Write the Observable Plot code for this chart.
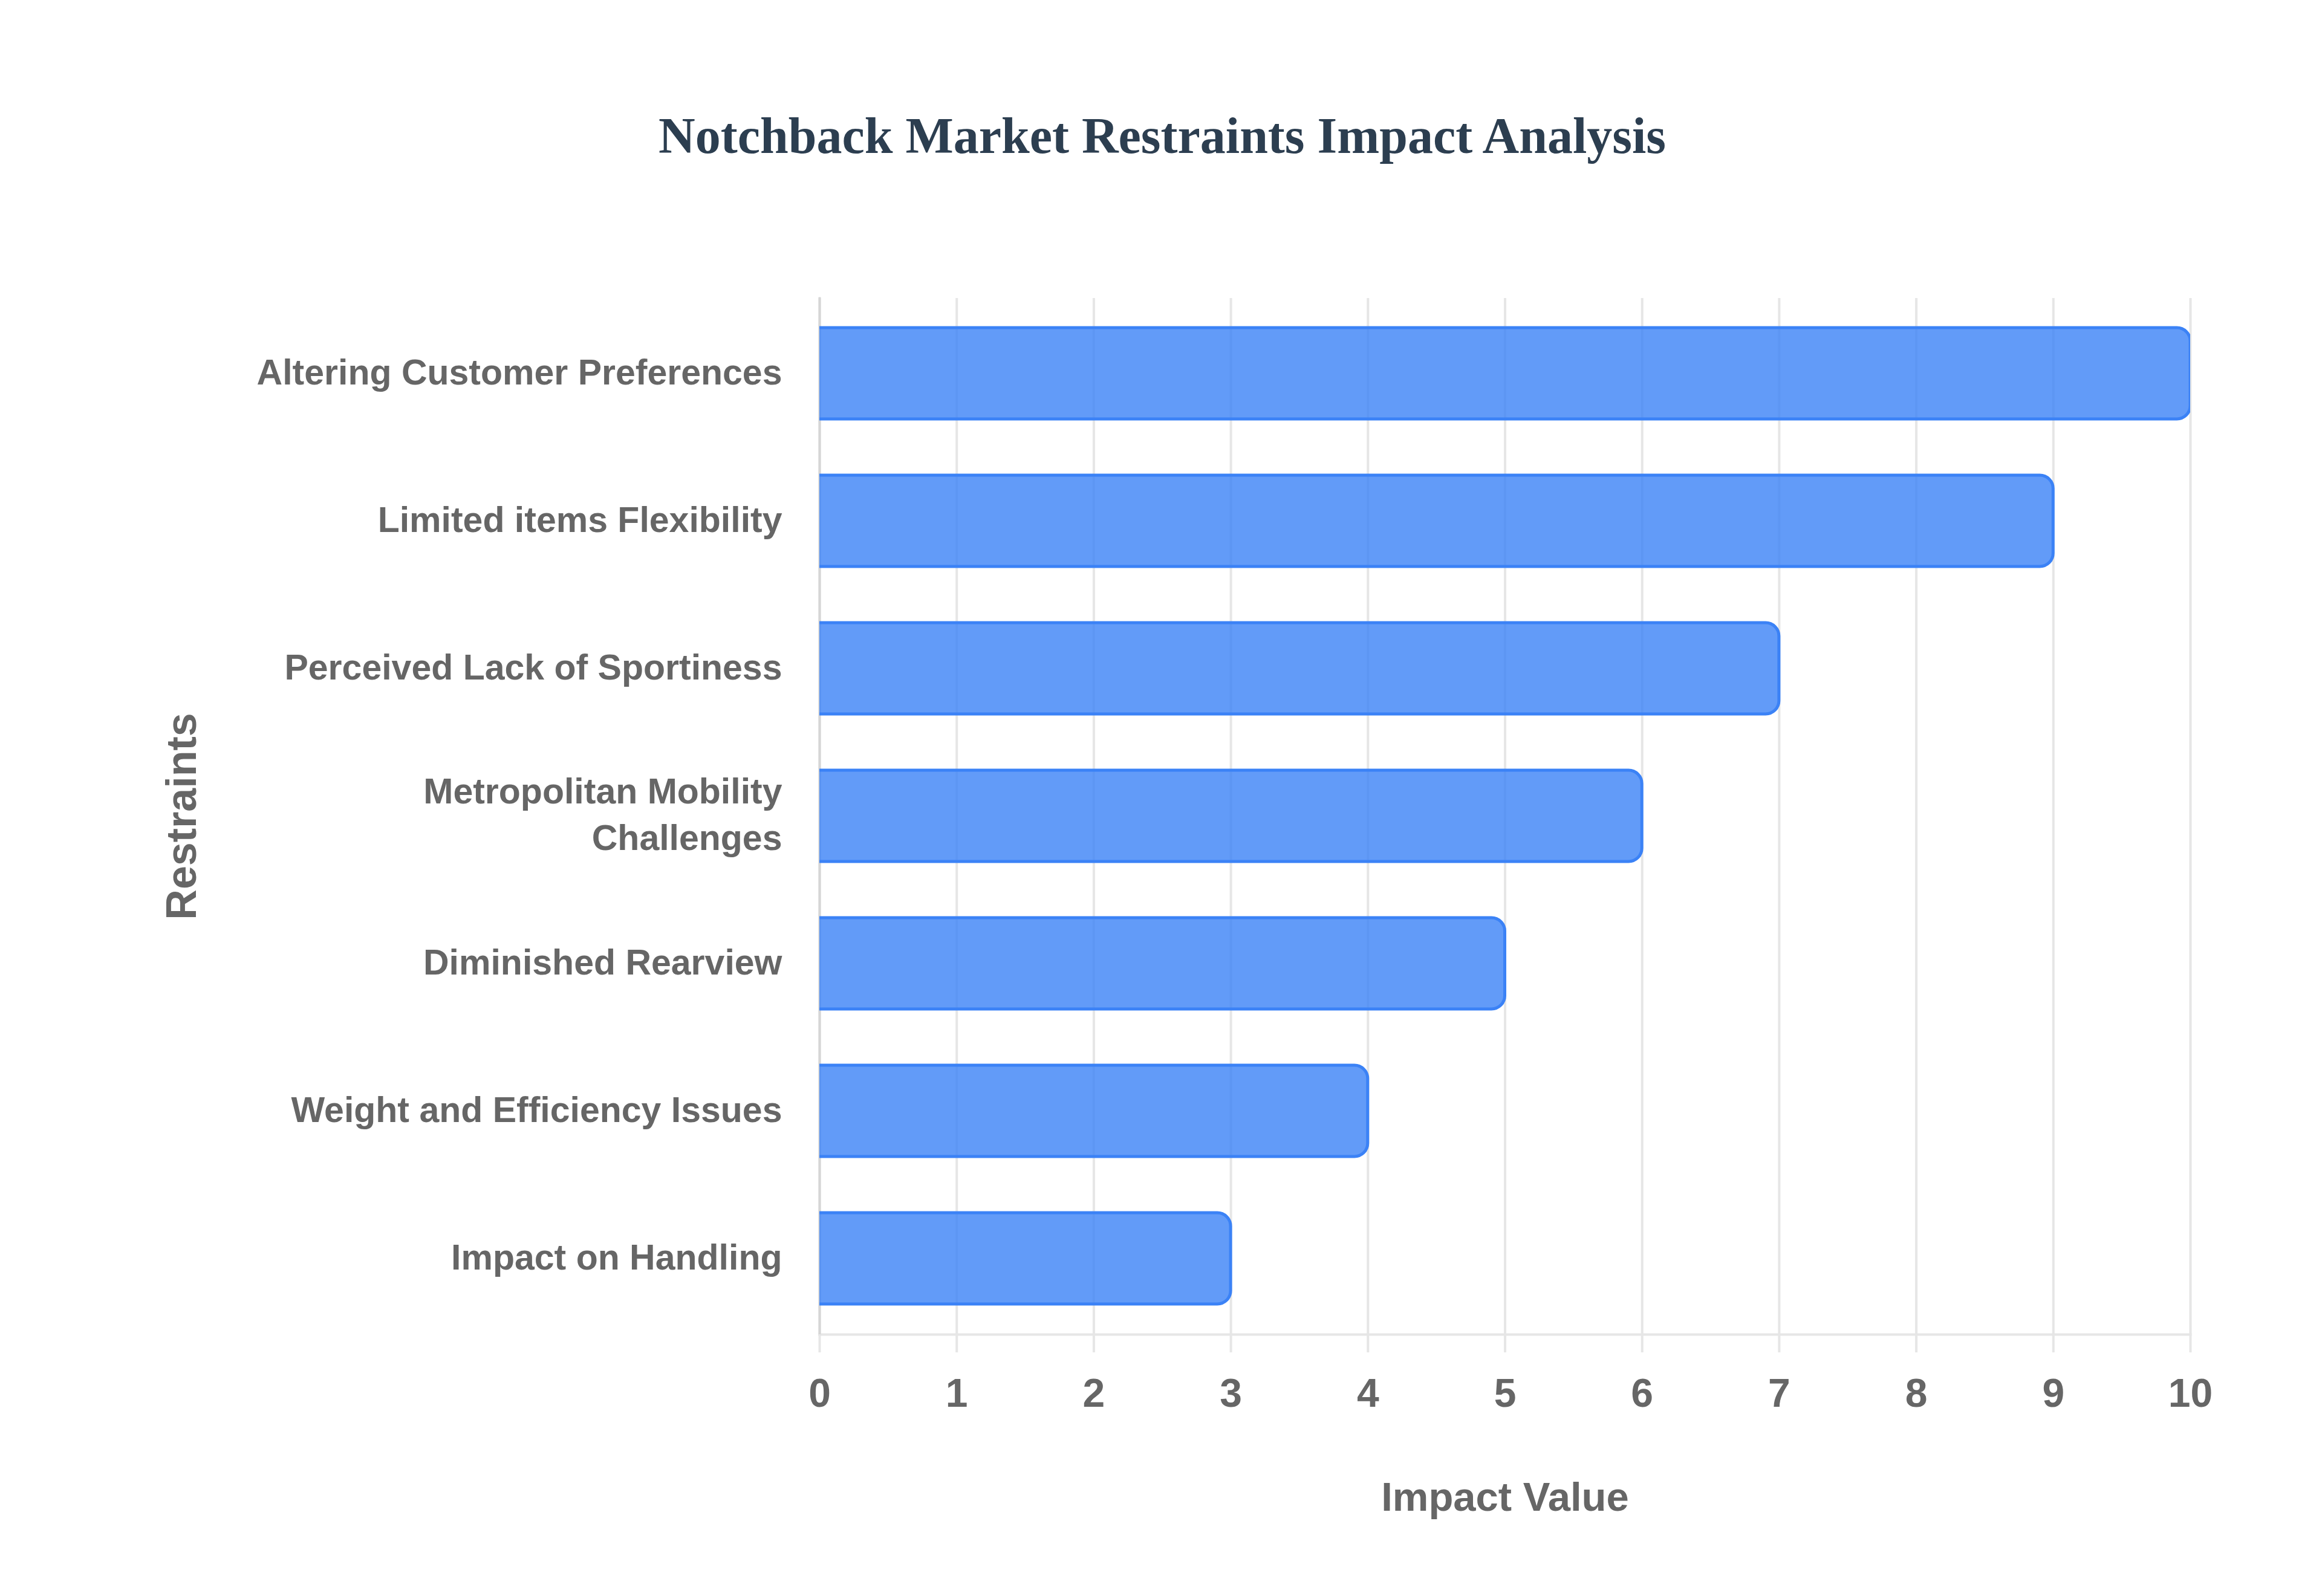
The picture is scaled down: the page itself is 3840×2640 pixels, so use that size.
<!DOCTYPE html>
<html>
<head>
<meta charset="utf-8">
<script src="https://cdn.jsdelivr.net/npm/d3@7"></script>
<script src="https://cdn.jsdelivr.net/npm/@observablehq/plot@0.6"></script>
<style>
  html, body { margin: 0; padding: 0; background: #fff; }
  #wrap { position: relative; width: 3840px; height: 2640px; background: #fff; }
  #title { position: absolute; left: 0; width: 3844px; top: 183px; text-align: center;
           font-family: "Liberation Serif", "Times New Roman", serif; font-weight: bold;
           font-size: 84px; line-height: 84px; color: #2c3e50; white-space: nowrap; }
  #chart { position: absolute; left: 0; top: 300px; }
</style>
</head>
<body>
<div id="wrap">
  <div id="title">Notchback Market Restraints Impact Analysis</div>
  <div id="chart"></div>
</div>
<script>
const categories = [
  "Altering Customer Preferences",
  "Limited items Flexibility",
  "Perceived Lack of Sportiness",
  "Metropolitan Mobility Challenges",
  "Diminished Rearview",
  "Weight and Efficiency Issues",
  "Impact on Handling"
];
const tickLabels = [
  "Altering Customer Preferences",
  "Limited items Flexibility",
  "Perceived Lack of Sportiness",
  "Metropolitan Mobility\nChallenges",
  "Diminished Rearview",
  "Weight and Efficiency Issues",
  "Impact on Handling"
];
const impactValues = [10, 9, 7, 6, 5, 4, 3];
const xTicks = [0, 1, 2, 3, 4, 5, 6, 7, 8, 9, 10];
const xTitle = "Impact Value";
const yTitle = "Restraints";

const data = categories.map((c, i) => ({category: c, value: impactValues[i]}));
const labelOf = new Map(categories.map((c, i) => [c, tickLabels[i]]));

const gridColor = "#e6e6e6";
const textColor = "#666666";
const sans = "'Liberation Sans', Arial, Helvetica, sans-serif";

const chart = Plot.plot({
  width: 3840,
  height: 2340,
  marginLeft: 1355,
  marginRight: 218,
  marginTop: 193,
  marginBottom: 433,
  style: {fontFamily: sans, background: "#fff"},
  x: {domain: [0, 10], ticks: xTicks},
  y: {domain: categories, paddingInner: 0.38, paddingOuter: 0.19},
  marks: [
    Plot.gridX(xTicks, {stroke: gridColor, strokeOpacity: 1, strokeWidth: 4}),
    Plot.frame({anchor: "bottom", stroke: gridColor, strokeWidth: 4}),
    Plot.frame({anchor: "left", stroke: "#d6d6d6", strokeWidth: 4}),
    Plot.barX(data, {
      y: "category", x: "value",
      fill: "rgba(59,130,246,0.8)", stroke: "#3b82f6", strokeWidth: 5,
      rx: 22, insetLeft: -40, clip: true
    }),
    Plot.axisX(xTicks, {
      tickSize: 30, tickPadding: 43, stroke: gridColor, strokeWidth: 4,
      fontSize: 66, fontWeight: "bold", fill: textColor, label: null,
      tickFormat: d => String(d)
    }),
    Plot.axisY({
      tickSize: 0, tickPadding: 62, fontSize: 59, fontWeight: "bold", fill: textColor,
      label: null, lineHeight: 1.3, dy: -7, tickFormat: d => labelOf.get(d)
    }),
    Plot.text([xTitle], {
      frameAnchor: "bottom", dy: 270, lineAnchor: "middle", textAnchor: "middle",
      fontSize: 67, fontWeight: "bold", fill: textColor
    }),
    Plot.text([yTitle], {
      frameAnchor: "left", dx: -1054, rotate: -90, lineAnchor: "middle", textAnchor: "middle",
      fontSize: 70, fontWeight: "bold", fill: textColor
    })
  ]
});
document.getElementById("chart").appendChild(chart);
</script>
</body>
</html>
